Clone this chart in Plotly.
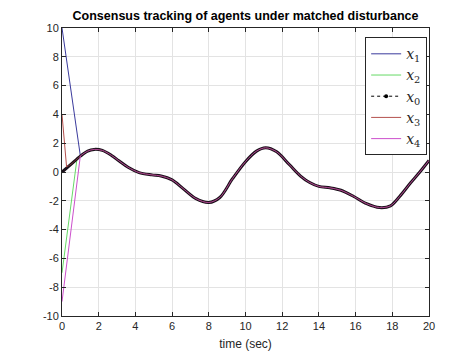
import plotly.graph_objects as go

# Leader trajectory x0
t0 = [0, 0.5, 1.0, 1.4, 1.75, 2.2, 2.7, 3.1, 3.6, 4.2, 4.9, 5.4, 6.0, 6.6, 7.3, 8.0,
      8.6, 9.3, 10.0, 10.6, 11.1, 11.7, 12.4, 13.0, 13.5, 14.0, 14.6, 15.2, 15.9,
      16.6, 17.3, 17.9, 18.4, 19.0, 19.5, 20.0]
x0 = [0, 0.55, 1.1, 1.45, 1.57, 1.5, 1.15, 0.78, 0.33, -0.04, -0.2, -0.28, -0.55,
      -1.15, -1.85, -2.12, -1.77, -0.45, 0.72, 1.45, 1.68, 1.4, 0.5, -0.28, -0.73,
      -1.0, -1.1, -1.27, -1.7, -2.2, -2.47, -2.35, -1.7, -0.75, 0.0, 0.8]

# Agents' transient phase: initial value and the point where they join x0
agent_names = ["x1", "x2", "x3", "x4"]
agent_t = [[0, 1.0], [0, 0.82], [0, 0.25], [0, 1.0]]
agent_x = [[10, 1.12], [-7, 0.95], [4, 0.35], [-9, 1.12]]
agent_colors = ["#3a3a9c", "#66d966", "#b5524f", "#cc4fcc"]

xticks = list(range(0, 21, 2))
yticks = list(range(-10, 11, 2))

def label(n):
    return "<i>x</i><sub>%s</sub>" % n[1:]

def tail(t_join):
    tt = [t for t in t0 if t > t_join]
    xx = [x for t, x in zip(t0, x0) if t > t_join]
    return tt, xx

fig = go.Figure()

def add_agent(i):
    fig.add_trace(go.Scatter(x=agent_t[i], y=agent_x[i], mode="lines",
                             line=dict(color=agent_colors[i], width=1),
                             name=label(agent_names[i]), legendgroup=agent_names[i]))

def add_agent_tail(i):
    tt, xx = tail(agent_t[i][1])
    fig.add_trace(go.Scatter(x=[agent_t[i][1]] + tt, y=[agent_x[i][1]] + xx, mode="lines",
                             line=dict(color=agent_colors[i], width=1, shape="spline",
                                       smoothing=0.9),
                             opacity=0.6, showlegend=False, legendgroup=agent_names[i]))

add_agent(0)
add_agent(1)
# leader
fig.add_trace(go.Scatter(x=t0, y=x0, mode="lines",
                         line=dict(color="#1a0f1a", width=3, shape="spline", smoothing=0.9),
                         showlegend=False, legendgroup="x0"))
fig.add_trace(go.Scatter(x=[None], y=[None], mode="lines+markers",
                         line=dict(color="black", width=1, dash="dot"),
                         marker=dict(color="black", size=4),
                         name=label("x0"), legendgroup="x0"))
add_agent(2)
add_agent(3)
add_agent_tail(2)
add_agent_tail(3)

axis_common = dict(showline=True, linecolor="#262626", linewidth=1, mirror="ticks",
                   ticks="inside", ticklen=4, tickcolor="#262626",
                   showgrid=True, gridcolor="#e3e3e3", gridwidth=1, zeroline=False,
                   tickfont=dict(family="Liberation Sans, Arial", size=11, color="#262626"))

fig.update_layout(
    width=466, height=347,
    margin=dict(l=54, r=45, t=20, b=39, autoexpand=False),
    paper_bgcolor="white", plot_bgcolor="white",
    title=dict(text="<b>Consensus tracking of agents under matched disturbance</b>",
               x=0.5, xref="paper", xanchor="center", y=0.99, yanchor="top",
               font=dict(family="Liberation Sans, Arial", size=12.5, color="black")),
    xaxis=dict(range=[0, 20], tickvals=xticks, ticktext=[str(v) for v in xticks],
               title=dict(text="time (sec)", standoff=8,
                          font=dict(family="Liberation Sans, Arial", size=12, color="#262626")),
               **axis_common),
    yaxis=dict(range=[-10, 10], tickvals=yticks, ticktext=[str(v) for v in yticks],
               **axis_common),
    legend=dict(x=0.826, y=0.968, xanchor="left", yanchor="top",
                bgcolor="white", bordercolor="#262626", borderwidth=1,
                font=dict(family="DejaVu Serif, Liberation Serif", size=14, color="#262626"),
                tracegroupgap=0, itemwidth=30),
    showlegend=True,
)

fig.write_html("out.html")
